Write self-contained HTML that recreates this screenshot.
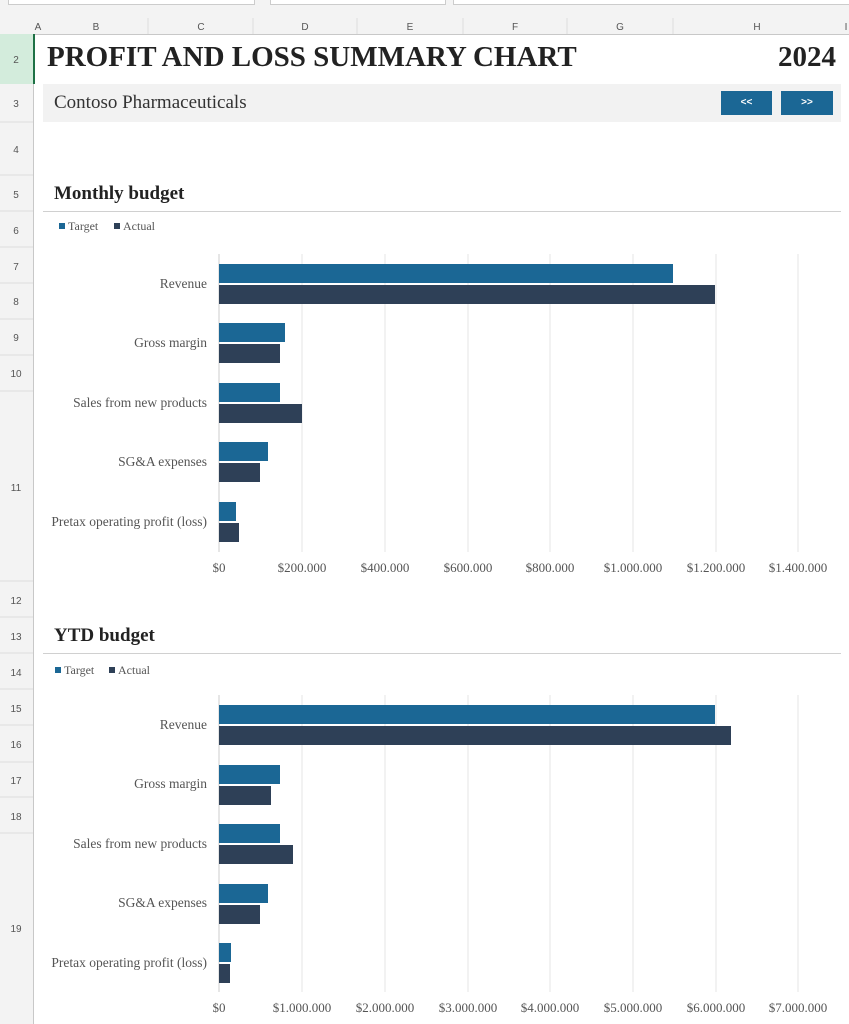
<!DOCTYPE html>
<html><head><meta charset="utf-8"><style>
body{margin:0;width:849px;height:1024px;position:relative;background:#fff;font-family:"Liberation Serif",serif;overflow:hidden}
.a{position:absolute}
</style></head><body>
<div class="a" style="left:0;top:0;width:849px;height:34px;background:#f3f3f3;border-bottom:1px solid #c8c8c8"></div>
<div class="a" style="left:8px;top:0;width:245px;height:4px;border:1px solid #ccc;border-top:none;background:#fff"></div>
<div class="a" style="left:270px;top:0;width:174px;height:4px;border:1px solid #ccc;border-top:none;background:#fff"></div>
<div class="a" style="left:453px;top:0;width:400px;height:4px;border:1px solid #ccc;border-top:none;background:#fff"></div>
<div class="a" style="left:0;top:34px;width:33px;height:990px;background:#f3f3f3;border-right:1px solid #c8c8c8"></div>
<div class="a" style="left:0;top:34px;width:33px;height:50px;background:#d3ecdc;border-right:2px solid #1e7145"></div>
<svg class="a" style="left:0;top:0" width="849" height="1024" font-family="Liberation Sans, sans-serif" font-size="10" fill="#555">
<g text-anchor="middle"><text x="38" y="30">A</text><text x="96" y="30">B</text><text x="201" y="30">C</text><text x="305" y="30">D</text><text x="410" y="30">E</text><text x="515" y="30">F</text><text x="620" y="30">G</text><text x="757" y="30">H</text><text x="846" y="30">I</text>
<text x="16" y="63">2</text><text x="16" y="107">3</text><text x="16" y="153">4</text><text x="16" y="198">5</text><text x="16" y="234">6</text><text x="16" y="270">7</text><text x="16" y="305">8</text><text x="16" y="341">9</text><text x="16" y="377">10</text><text x="16" y="491">11</text><text x="16" y="604">12</text><text x="16" y="640">13</text><text x="16" y="676">14</text><text x="16" y="712">15</text><text x="16" y="748">16</text><text x="16" y="784">17</text><text x="16" y="820">18</text><text x="16" y="932">19</text></g>
<g stroke="#ddd"><line x1="148" y1="18" x2="148" y2="34"/><line x1="253" y1="18" x2="253" y2="34"/><line x1="357" y1="18" x2="357" y2="34"/><line x1="463" y1="18" x2="463" y2="34"/><line x1="567" y1="18" x2="567" y2="34"/><line x1="673" y1="18" x2="673" y2="34"/><line x1="0" y1="122" x2="33" y2="122"/><line x1="0" y1="175" x2="33" y2="175"/><line x1="0" y1="211" x2="33" y2="211"/><line x1="0" y1="247" x2="33" y2="247"/><line x1="0" y1="283" x2="33" y2="283"/><line x1="0" y1="319" x2="33" y2="319"/><line x1="0" y1="355" x2="33" y2="355"/><line x1="0" y1="391" x2="33" y2="391"/><line x1="0" y1="581" x2="33" y2="581"/><line x1="0" y1="617" x2="33" y2="617"/><line x1="0" y1="653" x2="33" y2="653"/><line x1="0" y1="689" x2="33" y2="689"/><line x1="0" y1="725" x2="33" y2="725"/><line x1="0" y1="762" x2="33" y2="762"/><line x1="0" y1="797" x2="33" y2="797"/><line x1="0" y1="833" x2="33" y2="833"/></g>
</svg>
<div class="a" style="left:47px;top:41px;font-size:29px;font-weight:bold;color:#222">PROFIT AND LOSS SUMMARY CHART</div>
<div class="a" style="left:778px;top:41px;font-size:29px;font-weight:bold;color:#222">2024</div>
<div class="a" style="left:43px;top:84px;width:798px;height:38px;background:#f2f2f2"></div>
<div class="a" style="left:54px;top:92px;font-size:19px;color:#333">Contoso Pharmaceuticals</div>
<div class="a" style="left:721px;top:91px;width:51px;height:24px;background:#1b6795;color:#fff;font-size:10px;font-weight:bold;text-align:center;line-height:24px;font-family:Liberation Sans,sans-serif">&lt;&lt;</div>
<div class="a" style="left:781px;top:91px;width:52px;height:24px;background:#1b6795;color:#fff;font-size:10px;font-weight:bold;text-align:center;line-height:24px;font-family:Liberation Sans,sans-serif">&gt;&gt;</div>
<div class="a" style="left:54px;top:183px;font-size:19px;font-weight:bold;color:#222">Monthly budget</div>
<div class="a" style="left:43px;top:211px;width:798px;height:1px;background:#d0d0d0"></div>
<div class="a" style="left:54px;top:625px;font-size:19px;font-weight:bold;color:#222">YTD budget</div>
<div class="a" style="left:43px;top:653px;width:798px;height:1px;background:#d0d0d0"></div>
<svg class="a" style="left:0;top:0" width="849" height="1024" font-family="Liberation Serif, serif" font-size="12" fill="#555">
<g>
<rect x="59" y="223" width="6" height="6" fill="#1b6795"/><text x="68" y="230">Target</text>
<rect x="114" y="223" width="6" height="6" fill="#2e4057"/><text x="123" y="230">Actual</text>
<g stroke="#e4e4e4"><line x1="302" y1="254" x2="302" y2="552"/><line x1="385" y1="254" x2="385" y2="552"/><line x1="468" y1="254" x2="468" y2="552"/><line x1="550" y1="254" x2="550" y2="552"/><line x1="633" y1="254" x2="633" y2="552"/><line x1="716" y1="254" x2="716" y2="552"/><line x1="798" y1="254" x2="798" y2="552"/><line x1="219" y1="254" x2="219" y2="552" stroke="#ccc"/></g>
<g fill="#1b6795"><rect x="219" y="264" width="454" height="19"/><rect x="219" y="323" width="66" height="19"/><rect x="219" y="383" width="61" height="19"/><rect x="219" y="442" width="49" height="19"/><rect x="219" y="502" width="17" height="19"/></g>
<g fill="#2e4057"><rect x="219" y="285" width="496" height="19"/><rect x="219" y="344" width="61" height="19"/><rect x="219" y="404" width="83" height="19"/><rect x="219" y="463" width="41" height="19"/><rect x="219" y="523" width="20" height="19"/></g>
<g text-anchor="end" font-size="13.5"><text x="207" y="288">Revenue</text><text x="207" y="347">Gross margin</text><text x="207" y="407">Sales from new products</text><text x="207" y="466">SG&amp;A expenses</text><text x="207" y="526">Pretax operating profit (loss)</text></g>
<g text-anchor="middle" font-size="13"><text x="219" y="572">$0</text><text x="302" y="572">$200.000</text><text x="385" y="572">$400.000</text><text x="468" y="572">$600.000</text><text x="550" y="572">$800.000</text><text x="633" y="572">$1.000.000</text><text x="716" y="572">$1.200.000</text><text x="798" y="572">$1.400.000</text></g>
</g>
<g>
<rect x="55" y="667" width="6" height="6" fill="#1b6795"/><text x="64" y="674">Target</text>
<rect x="109" y="667" width="6" height="6" fill="#2e4057"/><text x="118" y="674">Actual</text>
<g stroke="#e4e4e4"><line x1="302" y1="695" x2="302" y2="992"/><line x1="385" y1="695" x2="385" y2="992"/><line x1="468" y1="695" x2="468" y2="992"/><line x1="550" y1="695" x2="550" y2="992"/><line x1="633" y1="695" x2="633" y2="992"/><line x1="716" y1="695" x2="716" y2="992"/><line x1="798" y1="695" x2="798" y2="992"/><line x1="219" y1="695" x2="219" y2="992" stroke="#ccc"/></g>
<g fill="#1b6795"><rect x="219" y="705" width="496" height="19"/><rect x="219" y="765" width="61" height="19"/><rect x="219" y="824" width="61" height="19"/><rect x="219" y="884" width="49" height="19"/><rect x="219" y="943" width="12" height="19"/></g>
<g fill="#2e4057"><rect x="219" y="726" width="512" height="19"/><rect x="219" y="786" width="52" height="19"/><rect x="219" y="845" width="74" height="19"/><rect x="219" y="905" width="41" height="19"/><rect x="219" y="964" width="11" height="19"/></g>
<g text-anchor="end" font-size="13.5"><text x="207" y="729">Revenue</text><text x="207" y="788">Gross margin</text><text x="207" y="848">Sales from new products</text><text x="207" y="907">SG&amp;A expenses</text><text x="207" y="967">Pretax operating profit (loss)</text></g>
<g text-anchor="middle" font-size="13"><text x="219" y="1012">$0</text><text x="302" y="1012">$1.000.000</text><text x="385" y="1012">$2.000.000</text><text x="468" y="1012">$3.000.000</text><text x="550" y="1012">$4.000.000</text><text x="633" y="1012">$5.000.000</text><text x="716" y="1012">$6.000.000</text><text x="798" y="1012">$7.000.000</text></g>
</g>
</svg>
</body></html>
